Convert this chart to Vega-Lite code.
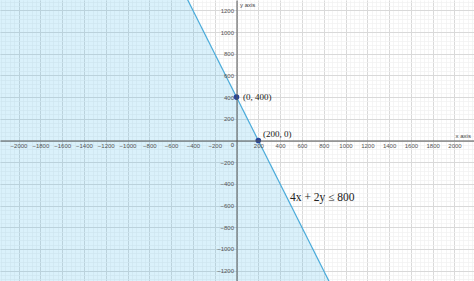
{
  "$schema": "https://vega.github.io/schema/vega-lite/v6.json",
  "width": 474,
  "height": 281,
  "autosize": {"type": "none"},
  "padding": 0,
  "background": "white",
  "config": {"view": {"stroke": null}},
  "datasets": {
    "shade": [{"x": -2300, "y": 1400}, {"x": -500, "y": 1400}, {"x": 900, "y": -1400}],
    "boundary": [{"x": -500, "y": 1400}, {"x": 900, "y": -1400}],
    "points": [{"x": 0, "y": 400}, {"x": 200, "y": 0}],
    "labels": [
      {"x": 60, "y": 400, "t": "(0, 400)"},
      {"x": 243, "y": 62, "t": "(200, 0)"}
    ],
    "ineq": [{"x": 491, "y": -530, "t": "4x + 2y ≤ 800"}],
    "axtitles": [
      {"x": 2010, "y": 41, "t": "x axis"},
      {"x": 32, "y": 1249, "t": "y axis"},
      {"x": -52, "y": -41, "t": "0"}
    ]
  },
  "layer": [
    {
      "data": {"name": "shade"},
      "mark": {"type": "area", "clip": true, "color": "#3bb4ea", "opacity": 0.19},
      "encoding": {
        "x": {"field": "x", "type": "quantitative", "scale": {"domain": [-2170, 2179], "nice": false, "zero": false},
          "axis": {"orient": "bottom", "values": [-2160,-2120,-2080,-2040,-2000,-1960,-1920,-1880,-1840,-1800,-1760,-1720,-1680,-1640,-1600,-1560,-1520,-1480,-1440,-1400,-1360,-1320,-1280,-1240,-1200,-1160,-1120,-1080,-1040,-1000,-960,-920,-880,-840,-800,-760,-720,-680,-640,-600,-560,-520,-480,-440,-400,-360,-320,-280,-240,-200,-160,-120,-80,-40,0,40,80,120,160,200,240,280,320,360,400,440,480,520,560,600,640,680,720,760,800,840,880,920,960,1000,1040,1080,1120,1160,1200,1240,1280,1320,1360,1400,1440,1480,1520,1560,1600,1640,1680,1720,1760,1800,1840,1880,1920,1960,2000,2040,2080,2120,2160],
            "grid": true, "gridColor": "#f0f0f0", "gridWidth": 0.7, "labels": false, "ticks": false, "domain": false, "title": null, "zindex": 0}},
        "y": {"field": "y", "type": "quantitative", "scale": {"domain": [-1295, 1295], "nice": false, "zero": false},
          "axis": {"orient": "left", "values": [-1280,-1240,-1200,-1160,-1120,-1080,-1040,-1000,-960,-920,-880,-840,-800,-760,-720,-680,-640,-600,-560,-520,-480,-440,-400,-360,-320,-280,-240,-200,-160,-120,-80,-40,0,40,80,120,160,200,240,280,320,360,400,440,480,520,560,600,640,680,720,760,800,840,880,920,960,1000,1040,1080,1120,1160,1200,1240,1280],
            "grid": true, "gridColor": "#f0f0f0", "gridWidth": 0.7, "labels": false, "ticks": false, "domain": false, "title": null, "zindex": 0}},
        "y2": {"datum": -1400}
      }
    },
    {
      "data": {"name": "boundary"},
      "mark": {"type": "line", "clip": true, "color": "#4aabda", "strokeWidth": 1.2},
      "encoding": {
        "x": {"field": "x", "type": "quantitative", "scale": {"domain": [-2170, 2179], "nice": false, "zero": false},
          "axis": {"orient": "top", "values": [-2000,-1800,-1600,-1400,-1200,-1000,-800,-600,-400,-200,0,200,400,600,800,1000,1200,1400,1600,1800,2000],
            "grid": true, "gridColor": "#d9d9d9", "gridWidth": 1, "labels": false, "ticks": false, "domain": false, "title": null, "zindex": 0}},
        "y": {"field": "y", "type": "quantitative", "scale": {"domain": [-1295, 1295], "nice": false, "zero": false},
          "axis": {"orient": "right", "values": [-1200,-1000,-800,-600,-400,-200,0,200,400,600,800,1000,1200],
            "grid": true, "gridColor": "#d9d9d9", "gridWidth": 1, "labels": false, "ticks": false, "domain": false, "title": null, "zindex": 0}}
      }
    },
    {
      "data": {"name": "points"},
      "mark": {"type": "point", "filled": true, "color": "#27459a", "size": 32, "opacity": 1},
      "encoding": {
        "x": {"field": "x", "type": "quantitative", "scale": {"domain": [-2170, 2179], "nice": false, "zero": false},
          "axis": {"orient": "bottom", "offset": -140.5, "values": [-2000,-1800,-1600,-1400,-1200,-1000,-800,-600,-400,-200,200,400,600,800,1000,1200,1400,1600,1800,2000],
            "format": "d", "grid": false, "ticks": false, "domain": true, "domainColor": "#555555", "domainWidth": 1,
            "labelFontSize": 6, "labelColor": "#555555", "labelFont": "Liberation Sans", "labelPadding": 2, "labelFlush": false, "labelOverlap": false, "title": null, "zindex": 1}},
        "y": {"field": "y", "type": "quantitative", "scale": {"domain": [-1295, 1295], "nice": false, "zero": false},
          "axis": {"orient": "left", "offset": -236.5, "values": [-1200,-1000,-800,-600,-400,-200,200,400,600,800,1000,1200],
            "format": "d", "grid": false, "ticks": false, "domain": true, "domainColor": "#555555", "domainWidth": 1,
            "labelFontSize": 6, "labelColor": "#555555", "labelFont": "Liberation Sans", "labelPadding": 3, "labelFlush": false, "labelOverlap": false, "title": null, "zindex": 1}}
      }
    },
    {
      "data": {"name": "labels"},
      "mark": {"type": "text", "align": "left", "baseline": "middle", "font": "Liberation Serif", "fontSize": 9, "color": "#222222"},
      "encoding": {
        "x": {"field": "x", "type": "quantitative", "axis": null},
        "y": {"field": "y", "type": "quantitative", "axis": null},
        "text": {"field": "t"}
      }
    },
    {
      "data": {"name": "ineq"},
      "mark": {"type": "text", "align": "left", "baseline": "middle", "font": "Liberation Serif", "fontSize": 11.5, "color": "#222222"},
      "encoding": {
        "x": {"field": "x", "type": "quantitative", "axis": null},
        "y": {"field": "y", "type": "quantitative", "axis": null},
        "text": {"field": "t"}
      }
    },
    {
      "data": {"name": "axtitles"},
      "mark": {"type": "text", "align": "left", "baseline": "middle", "font": "Liberation Sans", "fontSize": 6, "color": "#444444"},
      "encoding": {
        "x": {"field": "x", "type": "quantitative", "axis": null},
        "y": {"field": "y", "type": "quantitative", "axis": null},
        "text": {"field": "t"}
      }
    }
  ],
  "resolve": {"axis": {"x": "independent", "y": "independent"}}
}
